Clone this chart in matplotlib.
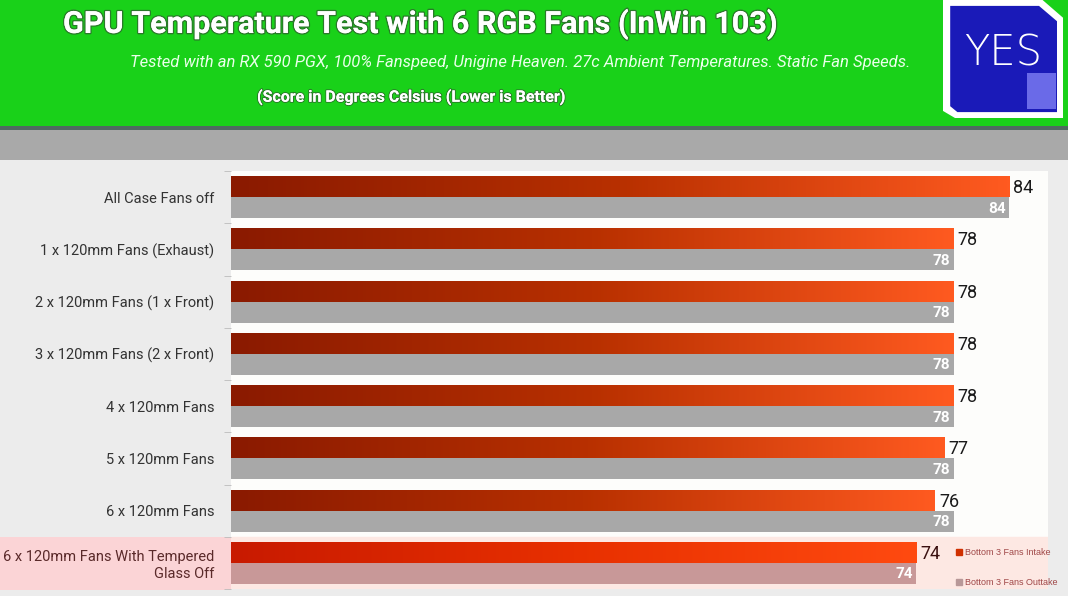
import matplotlib.pyplot as plt
import matplotlib.patches as mpatches
import matplotlib.patheffects as pe
from matplotlib.colors import LinearSegmentedColormap
import numpy as np

# data
labels = ["All Case Fans off", "1 x 120mm Fans (Exhaust)", "2 x 120mm Fans (1 x Front)",
          "3 x 120mm Fans (2 x Front)", "4 x 120mm Fans", "5 x 120mm Fans",
          "6 x 120mm Fans", "6 x 120mm Fans With Tempered\nGlass Off"]
intake = [84, 78, 78, 78, 78, 77, 76, 74]
outtake = [84, 78, 78, 78, 78, 78, 78, 74]
series_names = ["Bottom 3 Fans Intake", "Bottom 3 Fans Outtake"]

title = "GPU Temperature Test with 6 RGB Fans (InWin 103)"
subtitle = "Tested with an RX 590 PGX, 100% Fanspeed, Unigine Heaven. 27c Ambient Temperatures. Static Fan Speeds."
note = "(Score in Degrees Celsius (Lower is Better)"

W, H = 1068, 596
fig = plt.figure(figsize=(W / 100, H / 100), dpi=100)
fig.patch.set_facecolor("#ececec")

def fx(px):
    return px / W

def fy(py):
    return 1 - py / H

fam = ["Roboto", "DejaVu Sans"]

# header
fig.add_artist(mpatches.Rectangle((0, fy(126)), 1, 126 / H, transform=fig.transFigure,
                                  facecolor="#19d119", edgecolor="none", zorder=0))
fig.add_artist(mpatches.Rectangle((0, fy(130)), 1, 4 / H, transform=fig.transFigure,
                                  facecolor="#4f6a60", edgecolor="none", zorder=0))
fig.add_artist(mpatches.Rectangle((0, fy(160)), 1, 30 / H, transform=fig.transFigure,
                                  facecolor="#a9a9a9", edgecolor="none", zorder=0))
# highlighted last row band
fig.add_artist(mpatches.Rectangle((0, fy(590)), fx(231), 53 / H, transform=fig.transFigure,
                                  facecolor="#fbd4d6", edgecolor="none", zorder=0))

fig.text(fx(63), fy(24), title, color="white", fontsize=22, fontweight="bold",
         family=fam, va="center",
         path_effects=[pe.withStroke(linewidth=2, foreground="#2a7a2a"), pe.Normal()])
fig.text(fx(130), fy(62), subtitle, color="#eaffea", fontsize=12, style="italic",
         family=fam, va="center")
fig.text(fx(257), fy(97), note, color="white", fontsize=11.5, fontweight="bold",
         family=fam, va="center",
         path_effects=[pe.withStroke(linewidth=1.5, foreground="#2a7a2a"), pe.Normal()])

# logo
logo = fig.add_axes([fx(943), fy(118), fx(120), 118 / H])
logo.set_xlim(0, 1)
logo.set_ylim(0, 1)
logo.axis("off")
logo.add_patch(mpatches.Polygon([(0, 0.06), (0, 1), (0.83, 1), (1, 0.85), (1, 0), (0.1, 0)],
                                closed=True, facecolor="white", edgecolor="none"))
logo.add_patch(mpatches.Polygon([(0.06, 0.1), (0.06, 0.95), (0.8, 0.95), (0.95, 0.82), (0.95, 0.05), (0.12, 0.05)],
                                closed=True, facecolor="#1a1ab8", edgecolor="none"))
logo.add_patch(mpatches.Rectangle((0.7, 0.08), 0.24, 0.3, facecolor="#6a6ae8", edgecolor="none"))
logo.text(0.5, 0.55, "YES", color="white", fontsize=30, ha="center", va="center",
          family=["DejaVu Sans"], fontweight="light")

# main chart
ax = fig.add_axes([fx(231), fy(589), fx(1048 - 231), 418 / H])
ax.set_facecolor("#fdfdfb")
y = np.arange(len(labels))
bh = 0.4

cmap = LinearSegmentedColormap.from_list("o", ["#8a1a00", "#b83000", "#ff5a20"])
cmap_last = LinearSegmentedColormap.from_list("r", ["#c81a00", "#e83000", "#ff4a10"])
grad = np.linspace(0, 1, 256).reshape(1, -1)

ob = ax.barh(y - bh / 2, intake, height=bh, color="none", edgecolor="none", zorder=2)
gb = ax.barh(y + bh / 2, outtake, height=bh, color="#a8a8a8", edgecolor="none", zorder=2)
gb[-1].set_facecolor("#c89898")

for i, bar in enumerate(ob):
    cm = cmap_last if i == len(ob) - 1 else cmap
    im = ax.imshow(grad, cmap=cm, aspect="auto", zorder=2,
                   extent=[0, intake[i], y[i], y[i] - bh])
    im.set_clip_path(bar)
    ax.text(intake[i] + 0.45, y[i] - bh / 2 + 0.03, str(intake[i]), va="center", ha="left",
            fontsize=13, color="#1a1a1a" if i < len(ob) - 1 else "#3a1010", family=fam)
    ax.text(outtake[i] - 0.4, y[i] + bh / 2 + 0.02, str(outtake[i]), va="center", ha="right",
            fontsize=11, fontweight="bold", color="white", family=fam)

ax.axhspan(len(labels) - 1.5, len(labels) - 0.5, color="#fde8e3", zorder=0)

ax.set_xlim(0, 88.2)
ax.set_ylim(len(labels) - 0.5, -0.5)
ax.set_yticks(y)
ax.set_yticklabels(labels, fontsize=10.5, color="#333333", family=fam)
ax.get_yticklabels()[-1].set_color("#5a2a2a")
ax.tick_params(axis="y", length=0, pad=12)
ax.set_yticks(np.arange(len(labels) + 1) - 0.5, minor=True)
ax.tick_params(axis="y", which="minor", length=5, color="#bbbbbb")
ax.set_xticks([])
for s in ax.spines.values():
    s.set_visible(False)

handles = [mpatches.Patch(color="#d03000"), mpatches.Patch(color="#b89898")]
leg = fig.legend(handles, series_names, loc="upper left", bbox_to_anchor=(fx(948), fy(540)),
                 frameon=False, labelspacing=2.3, handlelength=0.6, handleheight=0.6,
                 handletextpad=0.4, prop={"family": ["Liberation Sans", "DejaVu Sans"], "size": 6.5})
for t in leg.get_texts():
    t.set_color("#a04848")

fig.savefig("out.png", dpi=100, facecolor=fig.get_facecolor())
